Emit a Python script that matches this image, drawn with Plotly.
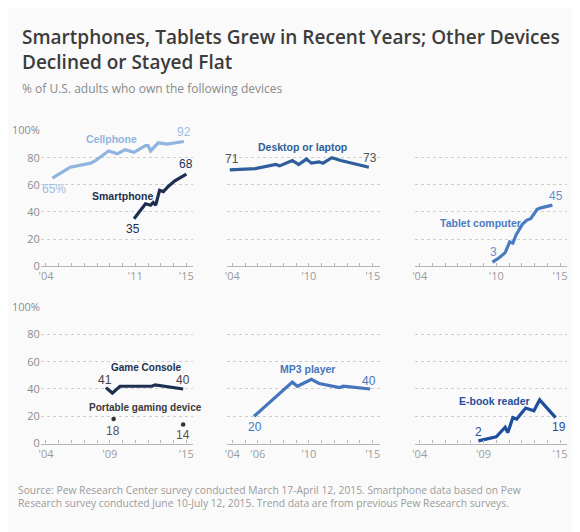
import plotly.graph_objects as go

# share of U.S. adults owning each device (survey date as fractional year)
cell_years = [2004.5, 2005.9, 2007.5, 2007.9, 2008.9, 2009.6, 2010.2, 2010.9, 2011.8, 2012.0, 2012.2, 2012.8, 2013.5, 2014.8]
cell_values = [65, 73, 76, 78, 85, 83, 86, 84, 89, 89, 85, 91, 90, 92]

smart_years = [2010.9, 2011.8, 2012.2, 2012.4, 2012.6, 2012.9, 2013.2, 2013.6, 2014.1, 2015.0]
smart_values = [35, 46, 45, 47, 45, 56, 55, 59, 63, 68]

desk_years = [2003.8, 2005.8, 2007.4, 2007.7, 2008.7, 2009.2, 2009.8, 2010.2, 2010.8, 2011.1, 2011.8, 2012.5, 2014.7]
desk_values = [71, 72, 75, 74, 78, 75, 79, 76, 77, 76, 80, 78, 73]

tablet_years = [2009.7, 2010.2, 2010.7, 2011.05, 2011.3, 2011.55, 2012.05, 2012.4, 2012.7, 2013.2, 2013.5, 2014.4]
tablet_values = [3, 6, 10, 18, 17, 23, 31, 34, 35, 42, 43, 45]

console_years = [2008.7, 2009.2, 2009.8, 2012.3, 2012.55, 2014.75]
console_values = [41, 37, 42, 42, 43, 40]

portable_years = [2009.3, 2014.75]
portable_values = [18, 14]

mp3_years = [2005.7, 2008.7, 2009.1, 2010.2, 2010.8, 2012.4, 2012.7, 2014.8]
mp3_values = [20, 45, 42, 47, 44, 41, 42, 40]

ebook_years = [2008.6, 2010.0, 2010.7, 2010.9, 2011.3, 2011.6, 2012.3, 2012.95, 2013.4, 2014.65]
ebook_values = [2, 5, 12, 8, 19, 18, 26, 24, 32, 19]

all_years = list(range(2004, 2016))
panel_year_labels = [
    {2004: "'04", 2011: "'11", 2015: "'15"},
    {2004: "'04", 2010: "'10", 2015: "'15"},
    {2004: "'04", 2010: "'10", 2015: "'15"},
    {2004: "'04", 2009: "'09", 2015: "'15"},
    {2004: "'04", 2006: "'06", 2010: "'10", 2015: "'15"},
    {2004: "'04", 2009: "'09", 2015: "'15"},
]
y_ticks = [0, 20, 40, 60, 80, 100]
y_labels = ["0", "20", "40", "60", "80", "100%"]

W, H = 580, 532


# the page is shown with the browser's body margin; undo the offset seen on screen
def px_x(v):
    return v - 9


def px_y(v):
    return (v - 15) / 0.975


col_px = [(40, 193), (227, 380), (415, 568)]
row_px = [(130, 266), (307, 444)]

LIGHT = "#8fb4e0"
NAVY = "#1c2f50"
MID = "#2f5e9b"
TABLET = "#4a7bc2"
MP3 = "#4575bd"
EBOOK = "#1f4f9c"

LABEL_FONT = "Liberation Sans"

fig = go.Figure()


def add_line(panel, xs, ys, color, width=3.2):
    n = "" if panel == 1 else str(panel)
    fig.add_trace(go.Scatter(x=xs, y=ys, mode="lines", xaxis="x" + n, yaxis="y" + n,
                             line=dict(color=color, width=width), hoverinfo="skip",
                             showlegend=False))


def name_label(panel, x, y, text, color, size=10.5):
    n = "" if panel == 1 else str(panel)
    fig.add_annotation(x=x, y=y, xref="x" + n, yref="y" + n, text="<b>" + text + "</b>",
                       showarrow=False, font=dict(family=LABEL_FONT, size=size, color=color))


def value_label(panel, x, y, text, color, dy, dx=0):
    n = "" if panel == 1 else str(panel)
    fig.add_annotation(x=x, y=y, xref="x" + n, yref="y" + n, text=text, showarrow=False,
                       xshift=dx, yshift=dy,
                       font=dict(family=LABEL_FONT, size=12, color=color))


add_line(1, cell_years, cell_values, LIGHT)
add_line(1, smart_years, smart_values, NAVY)
add_line(2, desk_years, desk_values, MID)
add_line(3, tablet_years, tablet_values, TABLET)
add_line(4, console_years, console_values, NAVY)
fig.add_trace(go.Scatter(x=portable_years, y=portable_values, mode="markers", xaxis="x4", yaxis="y4",
                         marker=dict(color="#333333", size=4.5), hoverinfo="skip", showlegend=False))
add_line(5, mp3_years, mp3_values, MP3)
add_line(6, ebook_years, ebook_values, EBOOK)

# series names
name_label(1, 2009.1, 93.5, "Cellphone", LIGHT)
name_label(1, 2010.0, 51.5, "Smartphone", NAVY)
name_label(2, 2009.5, 88, "Desktop or laptop", MID)
name_label(3, 2008.8, 31.5, "Tablet computer", TABLET)
name_label(4, 2011.8, 56, "Game Console", NAVY, 10)
name_label(4, 2011.8, 26.5, "Portable gaming device", "#3a3a3a", 10)
name_label(5, 2009.9, 54.5, "MP3 player", MP3)
name_label(6, 2009.9, 31.5, "E-book reader", EBOOK)

# first / last values
value_label(1, cell_years[0], cell_values[0], f"{cell_values[0]}%", "#9dbde3", -11, 2)
value_label(1, cell_years[-1], cell_values[-1], str(cell_values[-1]), "#9dbde3", 9)
value_label(1, smart_years[0], smart_values[0], str(smart_values[0]), NAVY, -10, -1)
value_label(1, smart_years[-1], smart_values[-1], str(smart_values[-1]), NAVY, 10)
value_label(2, desk_years[0], desk_values[0], str(desk_values[0]), "#555555", 11, 2)
value_label(2, desk_years[-1], desk_values[-1], str(desk_values[-1]), "#555555", 9, 1)
value_label(3, tablet_years[0], tablet_values[0], str(tablet_values[0]), "#6a8fc9", 10, 1)
value_label(3, tablet_years[-1], tablet_values[-1], str(tablet_values[-1]), "#6a8fc9", 9, 4)
value_label(4, console_years[0], console_values[0], str(console_values[0]), "#444444", 8, -1)
value_label(4, console_years[-1], console_values[-1], str(console_values[-1]), "#444444", 9)
value_label(4, portable_years[0], portable_values[0], str(portable_values[0]), "#555555", -12, -1)
value_label(4, portable_years[-1], portable_values[-1], str(portable_values[-1]), "#555555", -11)
value_label(5, mp3_years[0], mp3_values[0], str(mp3_values[0]), MP3, -11, 1)
value_label(5, mp3_years[-1], mp3_values[-1], str(mp3_values[-1]), MP3, 8, -1)
value_label(6, ebook_years[0], ebook_values[0], str(ebook_values[0]), EBOOK, 9)
value_label(6, ebook_years[-1], ebook_values[-1], str(ebook_values[-1]), EBOOK, -9, 3)

layout = dict(
    width=W, height=H,
    margin=dict(l=0, r=0, t=0, b=0),
    paper_bgcolor="#fafafa", plot_bgcolor="#fafafa",
    font=dict(family="Open Sans", color="#8c8c8c"),
    showlegend=False,
)

for i in range(6):
    n = "" if i == 0 else str(i + 1)
    row, col = divmod(i, 3)
    x0, x1 = col_px[col]
    y0, y1 = row_px[row]
    labels = panel_year_labels[i]
    layout["xaxis" + n] = dict(
        domain=[px_x(x0) / W, px_x(x1) / W], range=[2003.6, 2015.55], anchor="y" + n,
        tickvals=all_years, ticktext=[labels.get(y, "") for y in all_years],
        ticks="inside", ticklen=3, tickcolor="#b5b5b5", tickwidth=1,
        showline=True, linecolor="#b5b5b5", linewidth=1.2,
        showgrid=False, zeroline=False,
        tickfont=dict(family="Open Sans", size=11, color="#9a9a9a"),
    )
    layout["yaxis" + n] = dict(
        domain=[1 - px_y(y1) / H, 1 - px_y(y0) / H], range=[0, 100], anchor="x" + n,
        tickvals=y_ticks, ticktext=y_labels, showticklabels=(col == 0),
        showgrid=True, gridcolor="#cfcfcf", griddash="dot", gridwidth=1,
        zeroline=False, showline=False, ticks="",
        tickfont=dict(family="Open Sans", size=11, color="#8c8c8c"),
    )

fig.update_layout(**layout)

fig.add_annotation(
    xref="paper", yref="paper", x=px_x(19) / W, y=1 - px_y(21) / H, xanchor="left", yanchor="top",
    align="left", showarrow=False,
    text="Smartphones, Tablets Grew in Recent Years; Other Devices<br>Declined or Stayed Flat",
    font=dict(family="Open Sans", size=19, color="#3c3c3c", weight=600),
)
fig.add_annotation(
    xref="paper", yref="paper", x=px_x(19) / W, y=1 - px_y(88) / H, xanchor="left", yanchor="middle",
    showarrow=False, text="% of U.S. adults who own the following devices",
    font=dict(family="Open Sans", size=12, color="#8a8a8a"),
)
fig.add_annotation(
    xref="paper", yref="paper", x=px_x(15) / W, y=1 - px_y(481.5) / H, xanchor="left", yanchor="top",
    align="left", showarrow=False,
    text="Source: Pew Research Center survey conducted March 17-April 12, 2015. Smartphone data based on Pew<br>"
         "Research survey conducted June 10-July 12, 2015. Trend data are from previous Pew Research surveys.",
    font=dict(family="Open Sans", size=10.3, color="#9a9a9a"),
)

fig.write_html("out.html")
